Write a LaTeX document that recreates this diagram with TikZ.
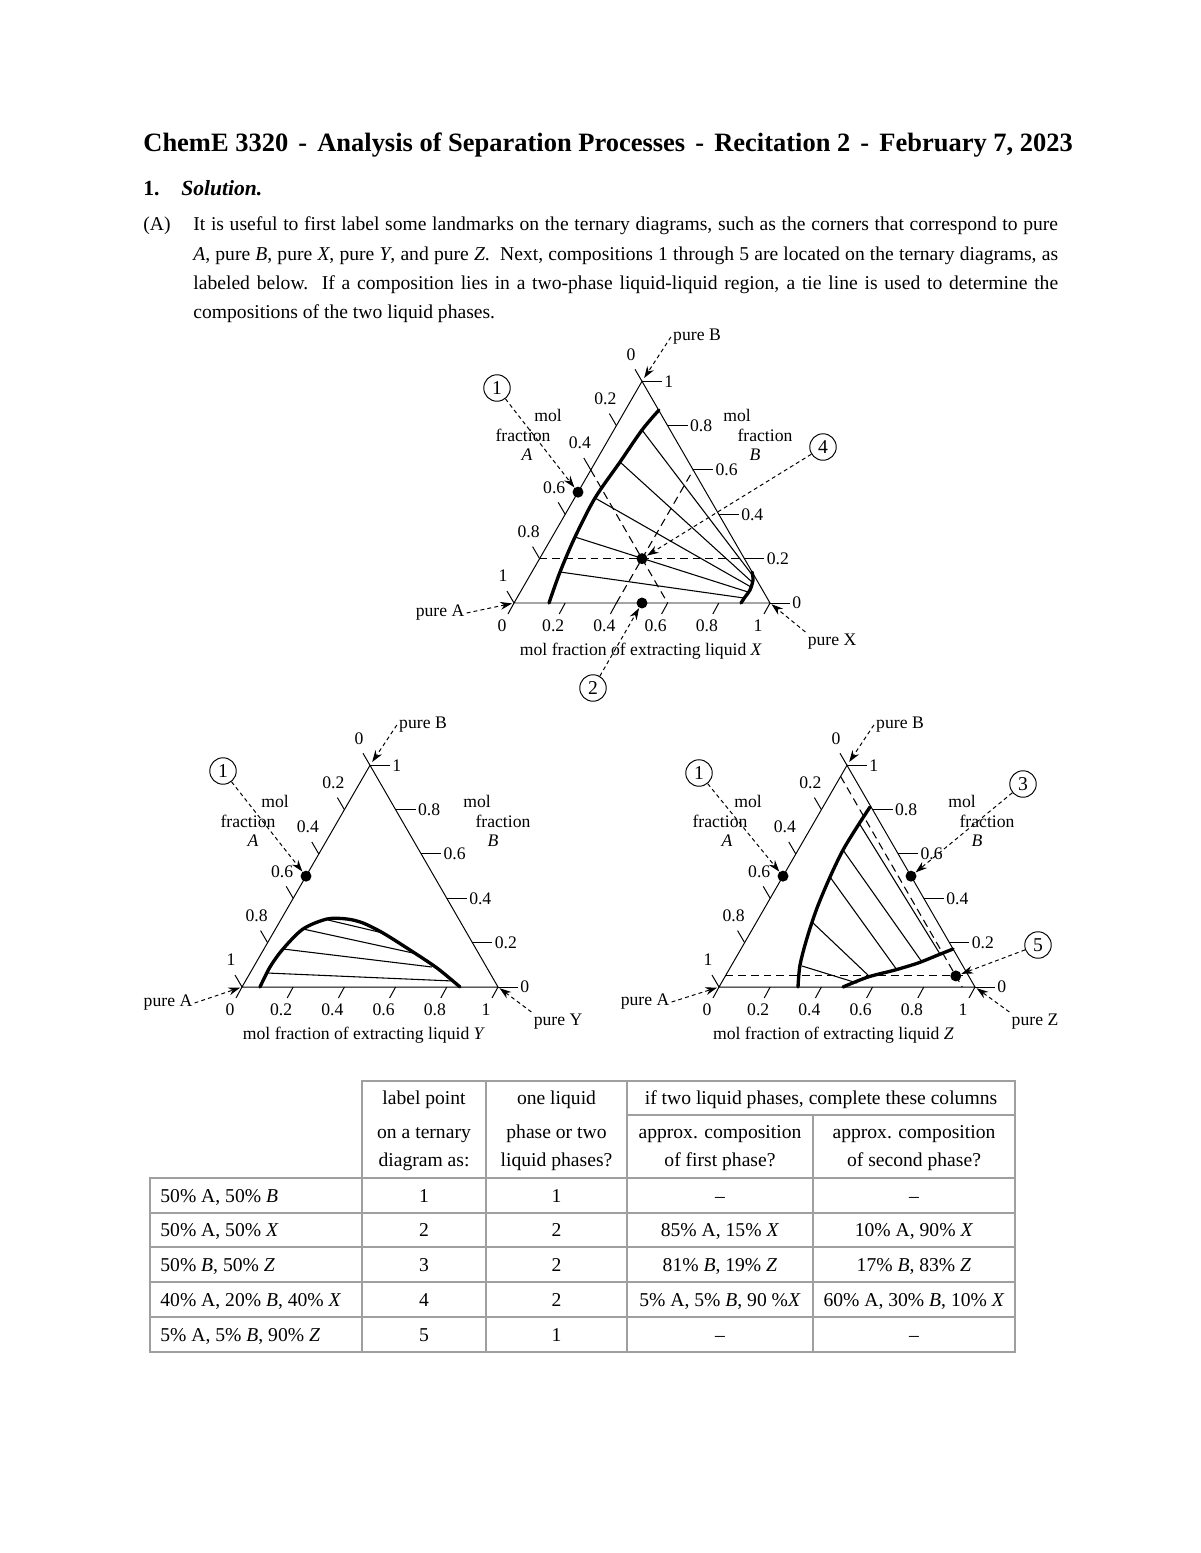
\documentclass[tikz,border=0pt]{standalone}
\usepackage{fontspec}
\setmainfont{Liberation Serif}
\usepackage{tikz}
\usetikzlibrary{arrows.meta}

\begin{document}
\begin{tikzpicture}[x=0.51pt, y=-0.51pt, >=Stealth,
  frame/.style={line width=0.5pt},
  binodal/.style={line width=1.7pt, line cap=round},
  tie/.style={line width=0.55pt},
  comp/.style={line width=0.55pt, dash pattern=on 4pt off 2.5pt},
  ptr/.style={->, >={Stealth[length=6pt,width=4pt]}, line width=0.5pt, dash pattern=on 2pt off 1.6pt},
  dot/.style={circle, fill=black, inner sep=0pt, minimum size=5.6pt},
  numc/.style={circle, draw, line width=0.5pt, inner sep=0pt, minimum size=13.5pt, font=\fontsize{10}{10}\selectfont},
  lbl/.style={font=\fontsize{9}{10}\selectfont, inner sep=1pt},
  body/.style={font=\fontsize{10}{12}\selectfont, inner sep=0pt, anchor=base west},
  cell/.style={font=\fontsize{10}{13.8}\selectfont, inner sep=0pt, anchor=base, align=center},
  tline/.style={gray!75, line width=1.1pt, line cap=rect}
]
  \useasboundingbox[fill=white] (0,0) rectangle (1200,1553);

  % ======= header text =======
  \node[body, font=\fontsize{13.5}{16}\selectfont\bfseries] (title) at (143,152)
    {\makebox[474pt]{ChemE 3320\hfill-\hfill Analysis of Separation Processes\hfill-\hfill Recitation 2\hfill-\hfill February 7, 2023}};
  \node[body, font=\fontsize{11}{13}\selectfont\bfseries] (secnum) at (143,196) {1.};
  \node[body, font=\fontsize{11}{13}\selectfont\bfseries\itshape] (secsol) at (181,196) {Solution.};
  \node[body] (partA) at (143,231) {(A)};
  \node[body] (line1) at (193,231) {\makebox[441pt][s]{It is useful to first label some landmarks on the ternary diagrams, such as the corners that correspond to pure}};
  \node[body] (line2) at (193,260) {\makebox[441pt][s]{\textit{A}, pure \textit{B}, pure \textit{X}, pure \textit{Y}, and pure \textit{Z}.\ \ Next, compositions 1 through 5 are located on the ternary diagrams, as}};
  \node[body] (line3) at (193,289) {\makebox[441pt][s]{labeled below.\ \ If a composition lies in a two-phase liquid-liquid region, a tie line is used to determine the}};
  \node[body] (line4) at (193,318) {compositions of the two liquid phases.};

  % ======= top diagram: A - B - X =======
  \begin{scope}[shift={(514,603)}]
    \coordinate (tA) at (0,0);
    \coordinate (tB) at (128,-221.7);
    \coordinate (tX) at (256,0);
    \draw[frame] (tA) -- (tB) -- (tX) -- cycle;
    \foreach \v [count=\i] in {0,0.2,0.4,0.6,0.8,1} {
      \draw[frame] ({256*\v},0) -- ++(-6,11);
      \node[lbl] (tbx\i) at ({256*\v-12},23) {\v};
      \draw[frame] ({128-128*\v},{-221.7+221.7*\v}) -- ++(-7,-12);
      \node[lbl] (tla\i) at ({117-128*\v},{-248.7+221.7*\v}) {\v};
      \draw[frame] ({256-128*\v},{-221.7*\v}) -- ++(20,0) node[lbl, anchor=west] (trb\i) {\v};
    }

    % binodal curve and tie lines
    \draw[binodal] plot[smooth] coordinates {(35,0) (46,-31) (61,-66) (81,-105) (106,-141) (128,-173) (145,-193)};
    \draw[binodal] plot[smooth] coordinates {(238,-31) (239,-23) (236,-13) (231,-6) (227,0)};
    \draw[tie] (128,-173) -- (239,-27);
    \draw[tie] (106,-141) -- (238,-21);
    \draw[tie] (81,-105) -- (237,-16);
    \draw[tie] (61,-66) -- (234,-11);
    \draw[tie] (46,-31) -- (230,-5);

    % lines through composition 4
    \draw[comp] (25.6,-44.34) -- (230.4,-44.34);
    \draw[comp] (76.8,-133) -- (153.6,0);
    \draw[comp] (102.4,0) -- (179.2,-133);

    % compositions
    \node[dot] (tp1) at (64,-110.85) {};
    \node[dot] (tp2) at (128,0) {};
    \node[dot] (tp4) at (128,-44.34) {};
    \node[numc] (tc1) at (-17,-215) {1};
    \node[numc] (tc2) at (79,85) {2};
    \node[numc] (tc4) at (309,-156) {4};
    \draw[ptr] (tc1) -- (tp1);
    \draw[ptr] (tc2) -- (tp2);
    \draw[ptr] (tc4) -- (tp4);

    % labels
    \node[lbl] (tpureB) at (183,-266) {pure B};
    \node[lbl] (tpureA) at (-74,10) {pure A};
    \node[lbl] (tpureX) at (318,39) {pure X};
    \draw[ptr, shorten >=2pt] (tpureB.west) -- (tB);
    \draw[ptr, shorten >=1pt] (tpureA.east) -- (tA);
    \draw[ptr, shorten >=1pt] (tpureX.north west) -- (tX);
    \node[lbl] (tmolA) at (34,-188) {mol};
    \node[lbl] (tfrA) at (9,-168) {fraction};
    \node[lbl] (tletA) at (13,-148) {\textit{A}};
    \node[lbl] (tmolB) at (223,-188) {mol};
    \node[lbl] (tfrB) at (251,-168) {fraction};
    \node[lbl] (tletB) at (241,-148) {\textit{B}};
    \node[lbl] (taxis) at (127,48) {mol fraction of extracting liquid \textit{X}};
  \end{scope}

  % ======= bottom left diagram: A - B - Y =======
  \begin{scope}[shift={(242,987)}]
    \coordinate (yA) at (0,0);
    \coordinate (yB) at (128,-221.7);
    \coordinate (yY) at (256,0);
    \draw[frame] (yA) -- (yB) -- (yY) -- cycle;
    \foreach \v [count=\i] in {0,0.2,0.4,0.6,0.8,1} {
      \draw[frame] ({256*\v},0) -- ++(-6,11);
      \node[lbl] (yby\i) at ({256*\v-12},23) {\v};
      \draw[frame] ({128-128*\v},{-221.7+221.7*\v}) -- ++(-7,-12);
      \node[lbl] (yla\i) at ({117-128*\v},{-248.7+221.7*\v}) {\v};
      \draw[frame] ({256-128*\v},{-221.7*\v}) -- ++(20,0) node[lbl, anchor=west] (yrb\i) {\v};
    }

    % binodal curve and tie lines
    \draw[binodal] plot[smooth] coordinates {(18,0) (28,-20) (41,-38) (61,-58) (85,-68) (105,-68) (121,-64) (141,-54) (168,-37) (195,-19) (218,0)};
    \draw[tie] (25,-14) -- (211,-6);
    \draw[tie] (41,-38) -- (190,-20);
    \draw[tie] (61,-58) -- (171,-34);
    \draw[tie] (86,-67) -- (141,-54);

    % composition 1
    \node[dot] (yp1) at (64,-110.85) {};
    \node[numc] (yc1) at (-19,-216) {1};
    \draw[ptr] (yc1) -- (yp1);

    % labels
    \node[lbl] (ypureB) at (181,-262) {pure B};
    \node[lbl] (ypureA) at (-74,16) {pure A};
    \node[lbl] (ypureY) at (316,35) {pure Y};
    \draw[ptr, shorten >=2pt] (ypureB.west) -- (yB);
    \draw[ptr, shorten >=1pt] (ypureA.east) -- (yA);
    \draw[ptr, shorten >=1pt] (ypureY.north west) -- (yY);
    \node[lbl] (ymolA) at (33,-186) {mol};
    \node[lbl] (yfrA) at (6,-166) {fraction};
    \node[lbl] (yletA) at (11,-146) {\textit{A}};
    \node[lbl] (ymolB) at (235,-186) {mol};
    \node[lbl] (yfrB) at (261,-166) {fraction};
    \node[lbl] (yletB) at (251,-146) {\textit{B}};
    \node[lbl] (yaxis) at (122,48) {mol fraction of extracting liquid \textit{Y}};
  \end{scope}

  % ======= bottom right diagram: A - B - Z =======
  \begin{scope}[shift={(719,987)}]
    \coordinate (zA) at (0,0);
    \coordinate (zB) at (128,-221.7);
    \coordinate (zZ) at (256,0);
    \draw[frame] (zA) -- (zB) -- (zZ) -- cycle;
    \foreach \v [count=\i] in {0,0.2,0.4,0.6,0.8,1} {
      \draw[frame] ({256*\v},0) -- ++(-6,11);
      \node[lbl] (zbz\i) at ({256*\v-12},23) {\v};
      \draw[frame] ({128-128*\v},{-221.7+221.7*\v}) -- ++(-7,-12);
      \node[lbl] (zla\i) at ({117-128*\v},{-248.7+221.7*\v}) {\v};
      \draw[frame] ({256-128*\v},{-221.7*\v}) -- ++(20,0) node[lbl, anchor=west] (zrb\i) {\v};
    }

    % binodal curve and tie lines
    \draw[binodal] plot[smooth] coordinates {(79,0) (81,-22) (88,-49) (98,-79) (111,-110) (124,-137) (138,-160) (151,-180)};
    \draw[binodal] plot[smooth] coordinates {(124,0) (149,-10) (176,-17) (199,-24) (219,-32) (234,-38)};
    \draw[tie] (140,-164) -- (221,-33);
    \draw[tie] (124,-137) -- (203,-25);
    \draw[tie] (111,-110) -- (178,-17);
    \draw[tie] (93,-65) -- (151,-10);
    \draw[tie] (83,-21) -- (138,-4);

    % lines through composition 5
    \draw[comp] (121.6,-210.6) -- (243.2,0);
    \draw[comp] (6.4,-11.08) -- (249.6,-11.08);

    % compositions
    \node[dot] (zp1) at (64,-110.85) {};
    \node[dot] (zp3) at (192,-110.85) {};
    \node[dot] (zp5) at (236.8,-11.08) {};
    \node[numc] (zc1) at (-20,-214) {1};
    \node[numc] (zc3) at (304,-203) {3};
    \node[numc] (zc5) at (319,-42) {5};
    \draw[ptr] (zc1) -- (zp1);
    \draw[ptr] (zc3) -- (zp3);
    \draw[ptr] (zc5) -- (zp5);

    % labels
    \node[lbl] (zpureB) at (181,-262) {pure B};
    \node[lbl] (zpureA) at (-74,15) {pure A};
    \node[lbl] (zpureZ) at (316,35) {pure Z};
    \draw[ptr, shorten >=2pt] (zpureB.west) -- (zB);
    \draw[ptr, shorten >=1pt] (zpureA.east) -- (zA);
    \draw[ptr, shorten >=1pt] (zpureZ.north west) -- (zZ);
    \node[lbl] (zmolA) at (29,-186) {mol};
    \node[lbl] (zfrA) at (1,-166) {fraction};
    \node[lbl] (zletA) at (8,-146) {\textit{A}};
    \node[lbl] (zmolB) at (243,-186) {mol};
    \node[lbl] (zfrB) at (268,-166) {fraction};
    \node[lbl] (zletB) at (258,-146) {\textit{B}};
    \node[lbl] (zaxis) at (114.5,48) {mol fraction of extracting liquid \textit{Z}};
  \end{scope}

  % ======= table =======
  \draw[tline] (362,1081) -- (1015,1081);
  \draw[tline] (627,1115) -- (1015,1115);
  \foreach \y in {1178,1213,1247,1282,1317,1352}
    \draw[tline] (150,\y) -- (1015,\y);
  \draw[tline] (150,1178) -- (150,1352);
  \foreach \x in {362,486,627,1015}
    \draw[tline] (\x,1081) -- (\x,1352);
  \draw[tline] (813,1115) -- (813,1352);

  \node[cell] (hlab) at (424,1104) {label point};
  \node[cell] (hlab2) at (424,1166) {on a ternary\\diagram as:};
  \node[cell] (hone) at (556.5,1104) {one liquid};
  \node[cell] (hone2) at (556.5,1166) {phase or two\\liquid phases?};
  \node[cell] (htwo) at (821,1104) {if two liquid phases, complete these columns};
  \node[cell] (hfirst) at (720,1166) {approx. composition\\of first phase?};
  \node[cell] (hsecond) at (914,1166) {approx. composition\\of second phase?};

  \foreach \yy/\ca/\cb/\cc/\cd/\ce [count=\r] in {
    1202/{50\% A, 50\% \textit{B}}/1/1/{--}/{--},
    1236.5/{50\% A, 50\% \textit{X}}/2/2/{85\% A, 15\% \textit{X}}/{10\% A, 90\% \textit{X}},
    1271/{50\% \textit{B}, 50\% \textit{Z}}/3/2/{81\% \textit{B}, 19\% \textit{Z}}/{17\% \textit{B}, 83\% \textit{Z}},
    1306/{40\% A, 20\% \textit{B}, 40\% \textit{X}}/4/2/{5\% A, 5\% \textit{B}, 90 \%\textit{X}}/{60\% A, 30\% \textit{B}, 10\% \textit{X}},
    1341/{5\% A, 5\% \textit{B}, 90\% \textit{Z}}/5/1/{--}/{--}} {
    \node[cell, anchor=base west] (r\r a) at (160,\yy) {\ca};
    \node[cell] (r\r b) at (424,\yy) {\cb};
    \node[cell] (r\r c) at (556.5,\yy) {\cc};
    \node[cell] (r\r d) at (720,\yy) {\cd};
    \node[cell] (r\r e) at (914,\yy) {\ce};
  }
\end{tikzpicture}
\end{document}
